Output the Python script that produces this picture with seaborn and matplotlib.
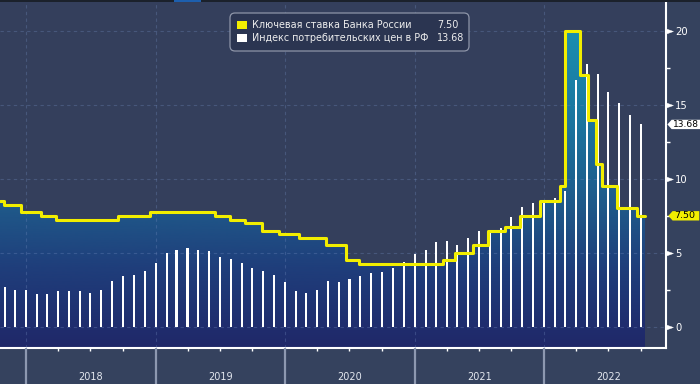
import numpy as np
import pandas as pd
import matplotlib
matplotlib.use("Agg")
import matplotlib.pyplot as plt
import matplotlib.dates as mdates
import matplotlib.ticker as mticker
import matplotlib.transforms as mtransforms
from matplotlib.path import Path
from matplotlib.patches import FancyBboxPatch, Rectangle
from matplotlib.colors import LinearSegmentedColormap
import seaborn as sns

# ---------------- data ----------------
rate_dates = ["2017-10-19", "2017-10-30", "2017-12-18", "2018-02-12", "2018-03-26",
              "2018-09-17", "2018-12-17", "2019-06-17", "2019-07-29", "2019-09-09",
              "2019-10-28", "2019-12-16", "2020-02-10", "2020-04-27", "2020-06-22",
              "2020-07-27", "2021-03-22", "2021-04-26", "2021-06-15", "2021-07-26",
              "2021-09-13", "2021-10-25", "2021-12-20", "2022-02-14", "2022-02-28",
              "2022-04-11", "2022-05-04", "2022-05-27", "2022-06-14", "2022-07-25",
              "2022-09-19", "2022-10-14"]
rate_values = [8.50, 8.25, 7.75, 7.50, 7.25,
               7.50, 7.75, 7.50, 7.25, 7.00,
               6.50, 6.25, 6.00, 5.50, 4.50,
               4.25, 4.50, 5.00, 5.50, 6.50,
               6.75, 7.50, 8.50, 9.50, 20.00,
               17.00, 14.00, 11.00, 9.50, 8.00,
               7.50, 7.50]

cpi_months = pd.period_range("2017-10", "2022-09", freq="M")
cpi_values = [2.7, 2.5, 2.5,
              2.2, 2.2, 2.4, 2.4, 2.4, 2.3, 2.5, 3.1, 3.4, 3.5, 3.8, 4.3,
              5.0, 5.2, 5.3, 5.2, 5.1, 4.7, 4.6, 4.3, 4.0, 3.8, 3.5, 3.0,
              2.4, 2.3, 2.5, 3.1, 3.0, 3.2, 3.4, 3.6, 3.7, 4.0, 4.4, 4.9,
              5.2, 5.7, 5.8, 5.5, 6.0, 6.5, 6.5, 6.7, 7.4, 8.1, 8.4, 8.4,
              8.7, 9.2, 16.7, 17.8, 17.1, 15.9, 15.1, 14.3, 13.68]

year_labels = [2018, 2019, 2020, 2021, 2022]
y_ticks = [0, 5, 10, 15, 20]
y_minor_ticks = [2.5, 7.5, 12.5, 17.5]
series_names = ["Ключевая ставка Банка России", "Индекс потребительских цен в РФ"]
x_range = ["2017-10-19", "2022-12-11"]
y_range = [-1.44, 21.96]

# ---------------- style ----------------
BG = "#343f5c"
FIG_BG = "#35425e"
YELLOW = "#f2ee00"
WHITE = "#ffffff"

sns.set_theme(style="dark", rc={"axes.facecolor": BG, "figure.facecolor": FIG_BG})
plt.rcParams["font.family"] = ["DejaVu Sans"]

fig = plt.figure(figsize=(7, 3.84), dpi=100)
ax = fig.add_axes([0, 36 / 384, 666 / 700, 346 / 384])
ax.set_facecolor(BG)

rate_x = mdates.date2num(pd.to_datetime(rate_dates))
cpi_x = mdates.date2num((cpi_months + 1).to_timestamp())  # plotted at month end
xlim = mdates.date2num(pd.to_datetime(x_range))
ybot, ytop = y_range

# gradient fill under key rate
poly = ax.fill_between(rate_x, rate_values, ybot, step="post", alpha=0.0, linewidth=0)
stops = [(-1.44, "#202868"), (0.0, "#1f2d6e"), (4.0, "#1f3e7b"),
         (8.0, "#1f5889"), (14.0, "#1b769f"), (21.0, "#1a92b2")]
g0, g1 = stops[0][0], stops[-1][0]
cmap = LinearSegmentedColormap.from_list(
    "grad", [((v - g0) / (g1 - g0), c) for v, c in stops])
grad = np.linspace(0, 1, 256).reshape(-1, 1)
im = ax.imshow(grad, extent=[xlim[0], xlim[1], g0, g1], origin="lower",
               aspect="auto", cmap=cmap, interpolation="bicubic", zorder=1)
im.set_clip_path(poly.get_paths()[0], transform=ax.transData)

# CPI bars
ax.bar(cpi_x, cpi_values, width=5.8, color=WHITE, linewidth=0, zorder=3)

# key rate line
sns.lineplot(x=rate_x, y=rate_values, ax=ax, color=YELLOW, linewidth=2.2,
             drawstyle="steps-post", estimator=None, sort=False, zorder=4)

ax.set_xlim(xlim)
ax.set_ylim(ybot, ytop)

# grid
ax.set_axisbelow(False)
ax.grid(True, which="major", axis="both", color="#7088bb", alpha=0.33,
        linestyle=(0, (3, 3)), linewidth=0.8)

# spines
for s in ["left", "top"]:
    ax.spines[s].set_visible(False)
for s in ["right", "bottom"]:
    ax.spines[s].set_visible(True)
    ax.spines[s].set_color(WHITE)
    ax.spines[s].set_linewidth(1.5)

# x axis
ax.xaxis.set_major_locator(mdates.YearLocator())
ax.xaxis.set_minor_locator(mdates.MonthLocator(bymonth=[4, 7, 10]))
ax.xaxis.set_major_formatter(mticker.NullFormatter())
ax.xaxis.set_minor_formatter(mticker.NullFormatter())
ax.tick_params(axis="x", which="major", length=27, width=1.6, color="#8d98b0",
               direction="out", bottom=True)
ax.tick_params(axis="x", which="minor", length=2.5, width=1, color=WHITE,
               direction="out", bottom=True)
for yr in year_labels:
    ax.annotate(str(yr), xy=(mdates.date2num(pd.Timestamp(f"{yr}-07-02")), 0),
                xycoords=("data", "axes fraction"), xytext=(0, -21),
                textcoords="offset points", ha="center", va="center",
                color="#e3e7ef", fontsize=7, annotation_clip=False)

# y axis on right
ax.yaxis.tick_right()
ax.yaxis.set_major_locator(mticker.FixedLocator(y_ticks))
ax.yaxis.set_minor_locator(mticker.FixedLocator(y_minor_ticks))
ax.yaxis.set_major_formatter(mticker.FuncFormatter(lambda v, p: f"{v:g}"))
ax.tick_params(axis="y", which="major", length=0, pad=6.5, labelsize=7.2,
               labelcolor=WHITE, right=True, left=False, labelright=True,
               labelleft=False)
ax.tick_params(axis="y", which="minor", length=3, width=1, color=WHITE,
               right=True, left=False, direction="out")
tri = Path([(0, -0.36), (1, 0), (0, 0.36), (0, -0.36)],
           [Path.MOVETO, Path.LINETO, Path.LINETO, Path.CLOSEPOLY])
for t in ax.yaxis.get_major_ticks():
    t.tick2line.set_marker(tri)
    t.tick2line.set_markersize(10)
    t.tick2line.set_markerfacecolor(WHITE)
    t.tick2line.set_markeredgecolor(WHITE)
    t.tick2line.set_markeredgewidth(0.3)
    t.tick2line.set_visible(True)


# value tags on the right axis
def tag_box(x0, y0, width, height, mutation_size):
    padx = 0.15 * mutation_size
    pady = 0.02 * mutation_size
    L, R = x0 - padx, x0 + width + padx * 3
    B, T = y0 - pady, y0 + height + pady
    h = T - B
    tip = L - 0.45 * h
    mid = (B + T) / 2
    return Path([(tip, mid), (L, T), (R, T), (R, B), (L, B), (tip, mid)],
                [Path.MOVETO, Path.LINETO, Path.LINETO, Path.LINETO,
                 Path.LINETO, Path.CLOSEPOLY])


trans = mtransforms.blended_transform_factory(ax.transAxes, ax.transData)
ax.text(1 + 7 / 666, cpi_values[-1], f"{cpi_values[-1]:.2f}", transform=trans,
        ha="left", va="center", fontsize=6.6, color="black", clip_on=False,
        zorder=10, bbox=dict(boxstyle=tag_box, facecolor=WHITE, edgecolor="none"))
ax.text(1 + 8 / 666, rate_values[-1], f"{rate_values[-1]:.2f}", transform=trans,
        ha="left", va="center", fontsize=6.8, color="black", clip_on=False,
        zorder=10, bbox=dict(boxstyle=tag_box, facecolor=YELLOW, edgecolor="none"))

# legend (drawn in pixel-based inches)
def iy(y):
    return (384 - y) / 100


fig.add_artist(FancyBboxPatch((2.30, iy(51)), 2.39, 0.38,
                              boxstyle="round,pad=0,rounding_size=0.05",
                              transform=fig.dpi_scale_trans, facecolor="#2b3551",
                              edgecolor="#8e95a8", linewidth=0.9, zorder=20))
legend_vals = [f"{rate_values[-1]:.2f}", f"{cpi_values[-1]:.2f}"]
legend_cols = [YELLOW, WHITE]
for i, (name, val, col) in enumerate(zip(series_names, legend_vals, legend_cols)):
    yc = 25.3 + i * 12.5
    fig.add_artist(Rectangle((2.37, iy(yc + 4)), 0.10, 0.08,
                             transform=fig.dpi_scale_trans, facecolor=col,
                             edgecolor="none", zorder=21))
    fig.text(2.52, iy(yc), name, transform=fig.dpi_scale_trans, va="center",
             ha="left", fontsize=6.9, color="#eeeeee", zorder=22)
    fig.text(4.37, iy(yc), val, transform=fig.dpi_scale_trans, va="center",
             ha="left", fontsize=6.9, color="#eeeeee", zorder=22)

# top strip
fig.add_artist(Rectangle((0, 3.82), 7, 0.02, transform=fig.dpi_scale_trans,
                         facecolor="#1b212b", edgecolor="none", zorder=30))
fig.add_artist(Rectangle((1.74, 3.82), 0.27, 0.02, transform=fig.dpi_scale_trans,
                         facecolor="#1d5fae", edgecolor="none", zorder=31))

fig.savefig("out.png", dpi=100, facecolor=FIG_BG)
